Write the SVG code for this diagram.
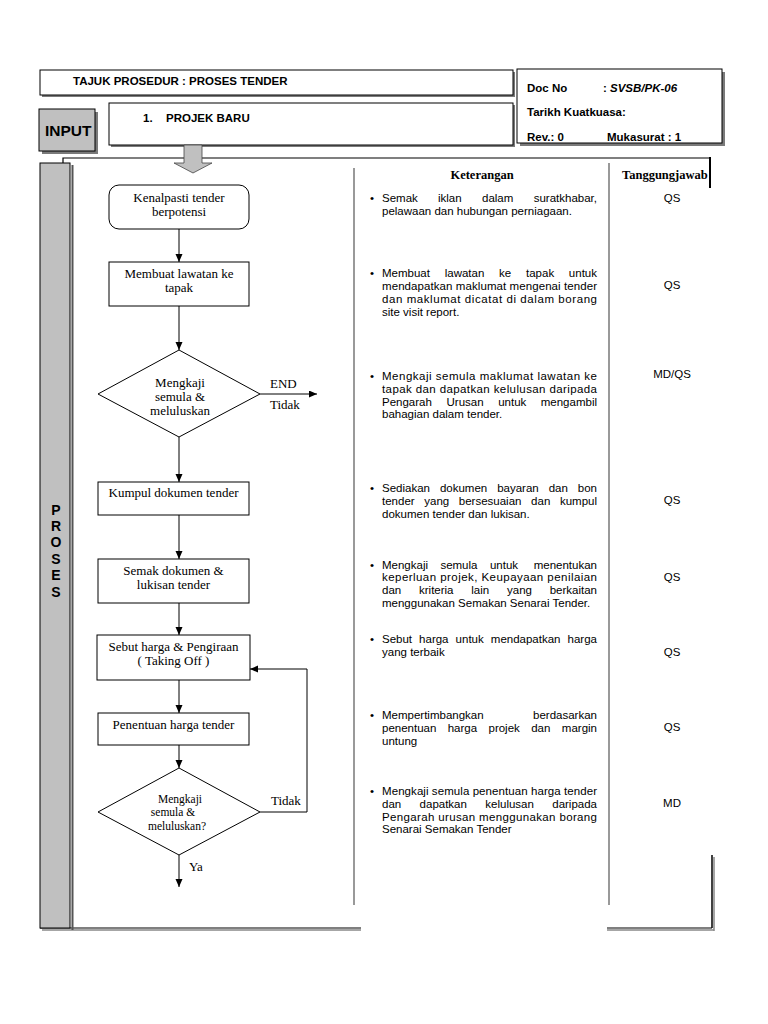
<svg xmlns="http://www.w3.org/2000/svg" width="768" height="1024" viewBox="0 0 768 1024">
<style>
.sans{font-family:"Liberation Sans",Arial,sans-serif;fill:#000}
.serif{font-family:"Liberation Serif","Times New Roman",serif;fill:#000}
.hb{font-size:11.5px;font-weight:bold}
.body{font-size:11.5px}
.node{fill:#fff;stroke:#000;stroke-width:1}
.nt{font-size:13px;text-anchor:middle}
.shadow{fill:#7a7a7a}
.edge{fill:none;stroke:#000;stroke-width:1}
.sep{stroke:#555;stroke-width:1.2}
.frame{stroke:#000;stroke-width:1.2;fill:none}
.resp{font-size:11.5px;text-anchor:middle}
.end{text-anchor:end}
</style>
<defs>
<marker id="ah" markerWidth="8" markerHeight="8" refX="8" refY="3.5" orient="auto" markerUnits="userSpaceOnUse">
<path d="M0,0 L8,3.5 L0,7 z" fill="#000"/>
</marker>
</defs>
<rect width="768" height="1024" fill="#fff"/>

<g id="header-title">
<rect class="shadow" x="42" y="72" width="473" height="25"/>
<rect class="node" x="40" y="70" width="473" height="25"/>
<text class="sans hb" x="73" y="85">TAJUK PROSEDUR : PROSES TENDER</text>
</g>
<g id="header-doc">
<rect class="shadow" x="520" y="72" width="205" height="74"/>
<rect class="node" x="517" y="69" width="205" height="74"/>
<text class="sans hb" x="527" y="92">Doc No</text>
<text class="sans hb" x="603" y="92">: <tspan font-style="italic">SVSB/PK-06</tspan></text>
<text class="sans hb" x="527" y="116">Tarikh Kuatkuasa:</text>
<text class="sans hb" x="527" y="141">Rev.:  0</text>
<text class="sans hb" x="607" y="141">Mukasurat :  1</text>
</g>
<g id="input-label">
<rect class="shadow" x="42" y="112" width="56" height="42"/>
<rect x="39" y="109" width="56" height="42" fill="#c0c0c0" stroke="#000" stroke-width="1"/>
<text class="sans" x="45" y="136" font-size="15.5" font-weight="bold">INPUT</text>
</g>
<g id="input-box">
<rect class="shadow" x="111" y="105" width="404" height="42"/>
<rect class="node" x="109" y="103" width="404" height="42"/>
<text class="sans hb" x="143" y="122">1.</text>
<text class="sans hb" x="166" y="122">PROJEK BARU</text>
</g>

<g id="frame">
<path class="frame" d="M63,163 L63,158 L710,158"/>
<line x1="710" y1="157" x2="710" y2="188" stroke="#000" stroke-width="2"/>
<line x1="40" y1="928" x2="361" y2="928" stroke="#000" stroke-width="1.2"/>
<line x1="42" y1="930" x2="361" y2="930" stroke="#888" stroke-width="1.5"/>
<line x1="607" y1="928" x2="712" y2="928" stroke="#000" stroke-width="1.2"/>
<line x1="607" y1="930" x2="714" y2="930" stroke="#888" stroke-width="1.5"/>
<line x1="712" y1="855" x2="712" y2="928" stroke="#000" stroke-width="1.5"/>
<line x1="714" y1="857" x2="714" y2="931" stroke="#888" stroke-width="1.5"/>
<line class="sep" x1="354" y1="168" x2="354" y2="905"/>
<line class="sep" x1="609" y1="163" x2="609" y2="905"/>
</g>

<g id="proses-bar">
<rect x="40" y="163" width="30" height="765" fill="#c0c0c0" stroke="#000" stroke-width="1"/>
<line x1="72.5" y1="165" x2="72.5" y2="930" stroke="#555" stroke-width="2"/>
<g class="sans" font-size="14" font-weight="bold" text-anchor="middle">
<text x="56" y="515">P</text>
<text x="56" y="531">R</text>
<text x="56" y="547">O</text>
<text x="56" y="564">S</text>
<text x="56" y="580">E</text>
<text x="56" y="597">S</text>
</g>
</g>

<g id="input-arrow">
<polygon points="184,145 202,145 202,163 212,163 193,173 174,163 184,163" fill="#c0c0c0" stroke="#444" stroke-width="0.8"/>
</g>

<g id="connectors">
<line class="edge" x1="179" y1="229" x2="179" y2="262" marker-end="url(#ah)"/>
<line class="edge" x1="179" y1="306" x2="179" y2="350" marker-end="url(#ah)"/>
<line class="edge" x1="260" y1="394" x2="317" y2="394" marker-end="url(#ah)"/>
<line class="edge" x1="179" y1="437" x2="179" y2="482" marker-end="url(#ah)"/>
<line class="edge" x1="179" y1="515" x2="179" y2="559" marker-end="url(#ah)"/>
<line class="edge" x1="179" y1="603" x2="179" y2="635" marker-end="url(#ah)"/>
<line class="edge" x1="179" y1="680" x2="179" y2="713" marker-end="url(#ah)"/>
<line class="edge" x1="179" y1="745" x2="179" y2="768" marker-end="url(#ah)"/>
<polyline class="edge" points="260,812 307,812 307,669 250,669" marker-end="url(#ah)"/>
<line class="edge" x1="179" y1="855" x2="179" y2="887" marker-end="url(#ah)"/>
<text class="serif" x="270" y="388" font-size="13">END</text>
<text class="serif" x="270" y="409" font-size="13">Tidak</text>
<text class="serif" x="271" y="805" font-size="13">Tidak</text>
<text class="serif" x="189" y="871" font-size="13">Ya</text>
</g>

<g id="n1">
<rect class="node" x="109" y="185" width="140" height="44" rx="10" ry="10"/>
<text class="serif nt" x="179" y="202">Kenalpasti tender</text>
<text class="serif nt" x="179" y="216">berpotensi</text>
</g>
<g id="n2">
<rect class="node" x="109" y="262" width="140" height="44"/>
<text class="serif nt" x="179" y="278">Membuat lawatan ke</text>
<text class="serif nt" x="179" y="292">tapak</text>
</g>
<g id="d1">
<polygon class="node" points="179,350 260,394 179,437 98,394"/>
<text class="serif nt" x="180" y="387">Mengkaji</text>
<text class="serif nt" x="180" y="401">semula &amp;</text>
<text class="serif nt" x="180" y="415">meluluskan</text>
</g>
<g id="n3">
<rect class="node" x="98" y="482" width="151" height="33"/>
<text class="serif nt" x="173.5" y="497">Kumpul dokumen tender</text>
</g>
<g id="n4">
<rect class="node" x="98" y="559" width="151" height="44"/>
<text class="serif nt" x="173.5" y="575">Semak dokumen &amp;</text>
<text class="serif nt" x="173.5" y="589">lukisan tender</text>
</g>
<g id="n5">
<rect class="node" x="97" y="635" width="153" height="45"/>
<text class="serif nt" x="173.5" y="651">Sebut harga &amp; Pengiraan</text>
<text class="serif nt" x="173.5" y="665">( Taking Off )</text>
</g>
<g id="n6">
<rect class="node" x="98" y="713" width="151" height="32"/>
<text class="serif nt" x="173.5" y="729">Penentuan harga tender</text>
</g>
<g id="d2">
<polygon class="node" points="179,768 260,812 179,855 98,812"/>
<text class="serif" x="180" y="803" font-size="11.5" text-anchor="middle">Mengkaji</text>
<text class="serif" x="173" y="816" font-size="11.5" text-anchor="middle">semula &amp;</text>
<text class="serif" x="177" y="830" font-size="11.5" text-anchor="middle">meluluskan?</text>
</g>

<g id="headers">
<text class="serif" x="482" y="179" font-size="12.5" font-weight="bold" text-anchor="middle">Keterangan</text>
<text class="serif" x="622" y="179" font-size="12.5" font-weight="bold">Tanggungjawab</text>
</g>

<g id="keterangan">
<text class="sans body" x="370" y="202">•</text>
<text class="sans body" y="202"><tspan x="382">Semak</tspan><tspan x="438">iklan</tspan><tspan x="482">dalam</tspan></text>
<text class="sans body end" x="597" y="202">suratkhabar,</text>
<text class="sans body" x="382" y="215">pelawaan dan hubungan perniagaan.</text>

<text class="sans body" x="370" y="277">•</text>
<text class="sans body" y="277"><tspan x="382">Membuat</tspan><tspan x="444.7">lawatan</tspan><tspan x="499.1">ke</tspan><tspan x="526">tapak</tspan></text>
<text class="sans body end" x="597" y="277">untuk</text>
<text class="sans body" x="382" y="290" textLength="215" lengthAdjust="spacing">mendapatkan maklumat mengenai tender</text>
<text class="sans body" x="382" y="303" textLength="215" lengthAdjust="spacing">dan maklumat dicatat di dalam borang</text>
<text class="sans body" x="382" y="316">site visit report.</text>

<text class="sans body" x="370" y="380">•</text>
<text class="sans body" x="382" y="380" textLength="215" lengthAdjust="spacing">Mengkaji semula maklumat lawatan ke</text>
<text class="sans body" x="382" y="393" textLength="215" lengthAdjust="spacing">tapak dan dapatkan kelulusan daripada</text>
<text class="sans body" y="406"><tspan x="382">Pengarah</tspan><tspan x="446.5">Urusan</tspan><tspan x="498.2">untuk</tspan></text>
<text class="sans body end" x="597" y="406">mengambil</text>
<text class="sans body" x="382" y="418">bahagian dalam tender.</text>

<text class="sans body" x="370" y="492">•</text>
<text class="sans body" y="492"><tspan x="382">Sediakan</tspan><tspan x="439.9">dokumen</tspan><tspan x="497.2">bayaran</tspan><tspan x="548.7">dan</tspan></text>
<text class="sans body end" x="597" y="492">bon</text>
<text class="sans body" y="505"><tspan x="382">tender</tspan><tspan x="424.3">yang</tspan><tspan x="458.8">bersesuaian</tspan><tspan x="531.1">dan</tspan></text>
<text class="sans body end" x="597" y="505">kumpul</text>
<text class="sans body" x="382" y="518">dokumen tender dan lukisan.</text>

<text class="sans body" x="370" y="569">•</text>
<text class="sans body" y="569"><tspan x="382">Mengkaji</tspan><tspan x="440.4">semula</tspan><tspan x="489.9">untuk</tspan></text>
<text class="sans body end" x="597" y="569">menentukan</text>
<text class="sans body" x="382" y="581" textLength="215" lengthAdjust="spacing">keperluan projek, Keupayaan penilaian</text>
<text class="sans body" y="594"><tspan x="382">dan</tspan><tspan x="419">kriteria</tspan><tspan x="471.3">lain</tspan><tspan x="507">yang</tspan></text>
<text class="sans body end" x="597" y="594">berkaitan</text>
<text class="sans body" x="382" y="607">menggunakan Semakan Senarai Tender.</text>

<text class="sans body" x="370" y="643">•</text>
<text class="sans body" y="643"><tspan x="382">Sebut</tspan><tspan x="419.1">harga</tspan><tspan x="455.6">untuk</tspan><tspan x="490.8">mendapatkan</tspan></text>
<text class="sans body end" x="597" y="643">harga</text>
<text class="sans body" x="382" y="656">yang terbaik</text>

<text class="sans body" x="370" y="719">•</text>
<text class="sans body" x="382" y="719">Mempertimbangkan</text>
<text class="sans body end" x="597" y="719">berdasarkan</text>
<text class="sans body" y="732"><tspan x="382">penentuan</tspan><tspan x="447.7">harga</tspan><tspan x="488.5">projek</tspan><tspan x="531.2">dan</tspan></text>
<text class="sans body end" x="597" y="732">margin</text>
<text class="sans body" x="382" y="745">untung</text>

<text class="sans body" x="370" y="795">•</text>
<text class="sans body" x="382" y="795" textLength="215" lengthAdjust="spacing">Mengkaji semula penentuan harga tender</text>
<text class="sans body" y="808"><tspan x="382">dan</tspan><tspan x="419.6">dapatkan</tspan><tspan x="485.3">kelulusan</tspan></text>
<text class="sans body end" x="597" y="808">daripada</text>
<text class="sans body" x="382" y="821" textLength="215" lengthAdjust="spacing">Pengarah urusan menggunakan borang</text>
<text class="sans body" x="382" y="833">Senarai Semakan Tender</text>
</g>

<g id="tanggungjawab">
<text class="sans resp" x="672" y="202">QS</text>
<text class="sans resp" x="672" y="289">QS</text>
<text class="sans resp" x="672" y="378">MD/QS</text>
<text class="sans resp" x="672" y="504">QS</text>
<text class="sans resp" x="672" y="581">QS</text>
<text class="sans resp" x="672" y="656">QS</text>
<text class="sans resp" x="672" y="731">QS</text>
<text class="sans resp" x="672" y="807">MD</text>
</g>
</svg>
